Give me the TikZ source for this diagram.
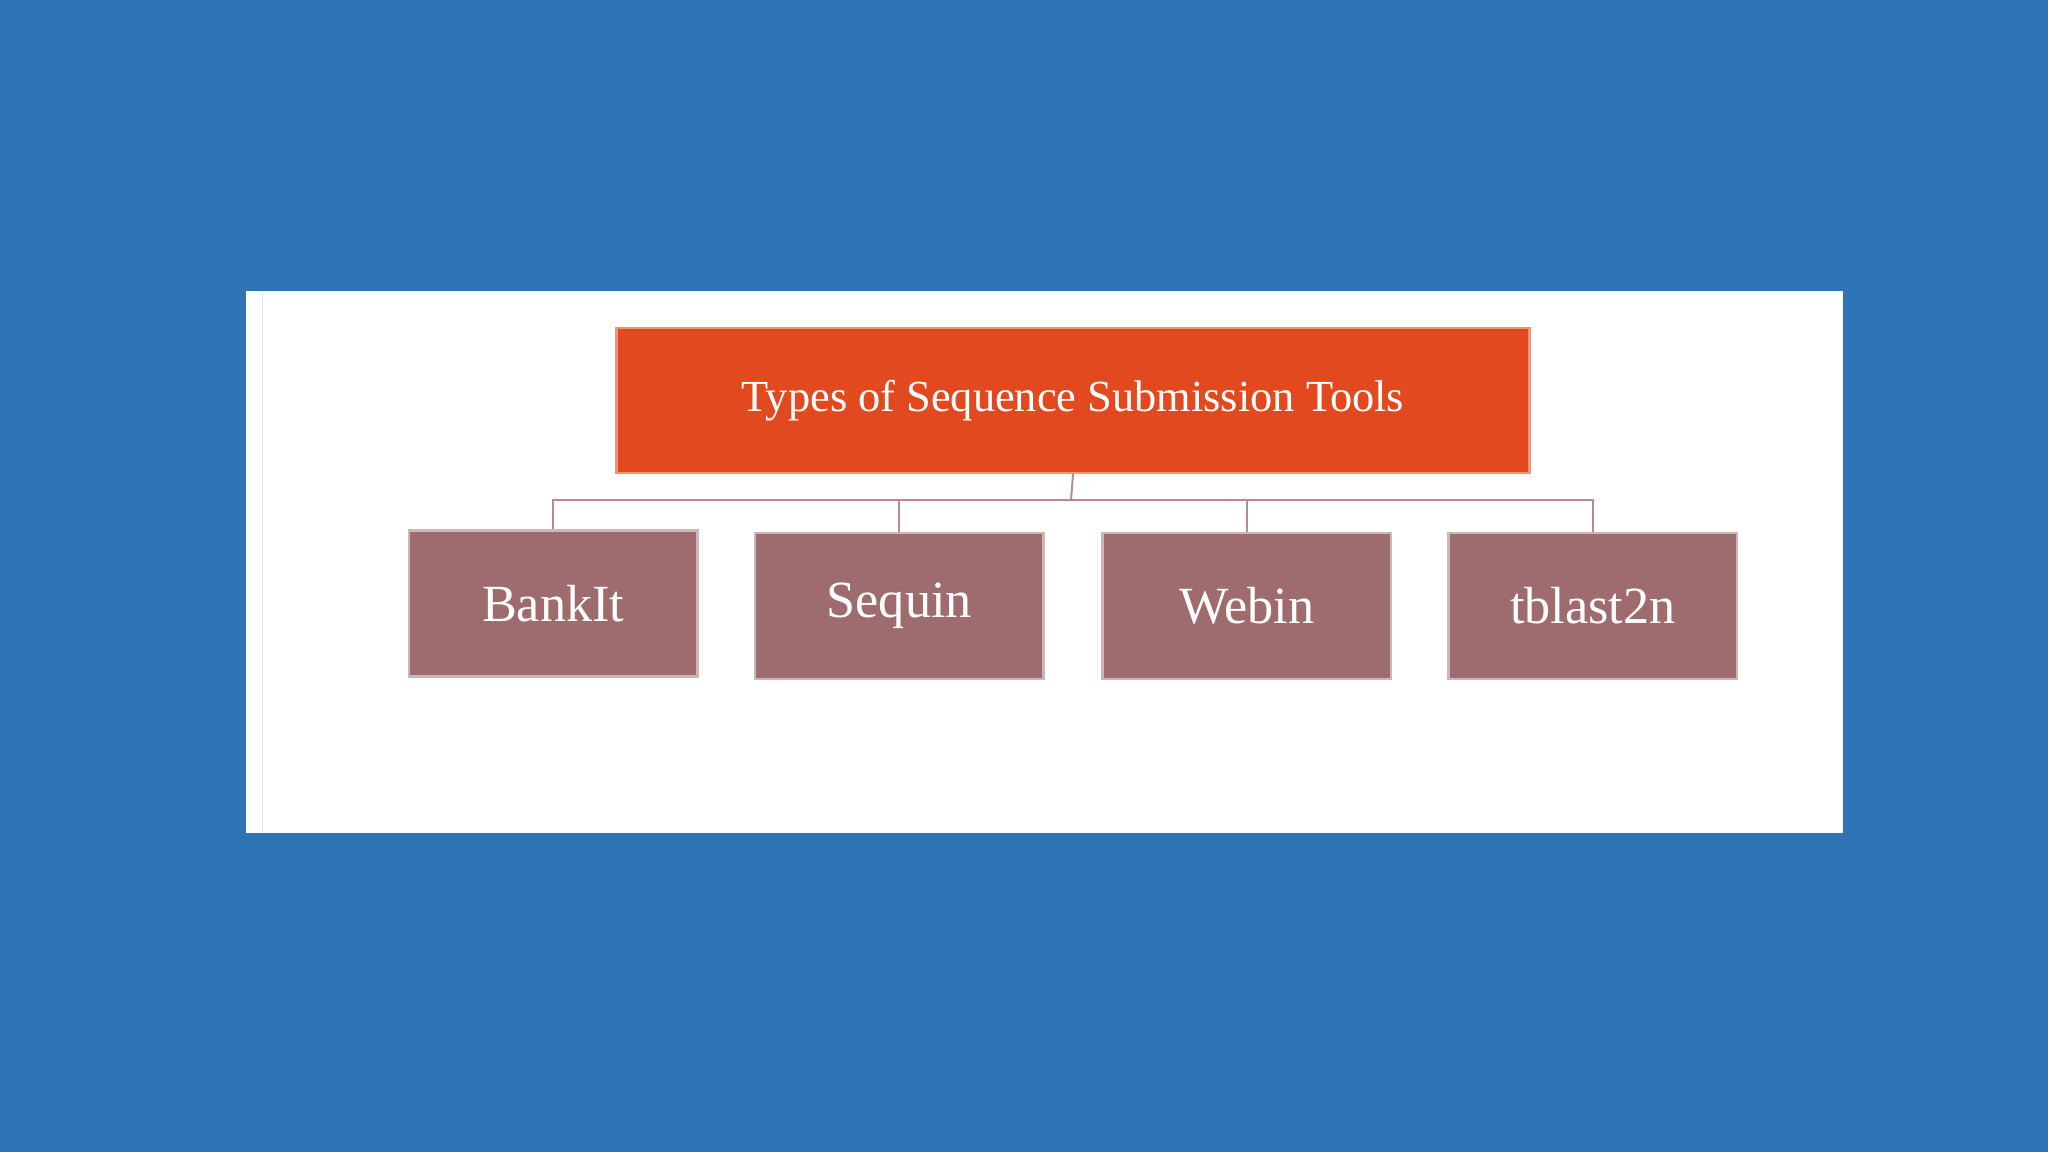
\documentclass[tikz,border=0pt]{standalone}
\usepackage{fontspec}
\setmainfont{Liberation Serif}
\definecolor{bg}{HTML}{2F74B5}
\definecolor{topc}{HTML}{E2491F}
\definecolor{kid}{HTML}{9E6B6E}
\definecolor{lnc}{HTML}{B88A8E}
\tikzset{
  topbox/.style={fill=topc,draw=topc!60!white,line width=2pt,text=white,font=\fontsize{34}{36}\selectfont},
  kidbox/.style={fill=kid,draw=kid!50!white,line width=2pt,text=white,font=\fontsize{40}{42}\selectfont},
  conn/.style={draw=lnc,line width=1.5pt}
}
\begin{document}
\begin{tikzpicture}[x=1pt,y=-1pt]
\fill[bg] (0,0) rectangle (1568,882);
\fill[white] (188,223) rectangle (1411,638);
\draw[gray!20,line width=0.8pt] (201,223) -- (201,638);
\node[topbox,minimum width=699pt,minimum height=111pt,anchor=north west] (top) at (471,250) {Types of Sequence Submission Tools};
\node[kidbox,minimum width=221pt,minimum height=112pt,anchor=north west] (a) at (312,405) {BankIt};
\node[kidbox,minimum width=221pt,minimum height=112pt,anchor=north west] (b) at (577,407) {Sequin};
\node[kidbox,minimum width=221pt,minimum height=112pt,anchor=north west] (c) at (843,407) {Webin};
\node[kidbox,minimum width=221pt,minimum height=112pt,anchor=north west] (d) at (1108,407) {tblast2n};
\coordinate (j) at (820,383);
\draw[conn] (top.south) -- (j);
\draw[conn] (a.north) |- (j) -| (d.north);
\draw[conn] (b.north) -- (b.north |- j);
\draw[conn] (c.north) -- (c.north |- j);
\end{tikzpicture}
\end{document}
